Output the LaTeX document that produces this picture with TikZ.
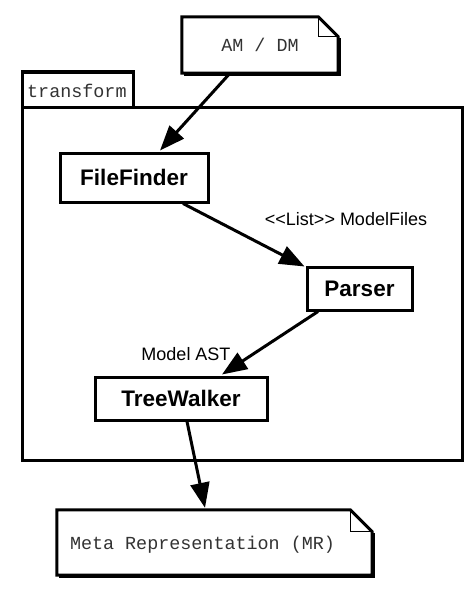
\documentclass[tikz,border=0pt]{standalone}
\usepackage{fontspec}
\setmainfont{Liberation Sans}
\setmonofont{Liberation Mono}
\usetikzlibrary{arrows.meta}
\tikzset{
  comp/.style={draw, line width=3pt, font=\fontsize{22.5}{24}\selectfont\bfseries, inner sep=0pt},
  lbl/.style={font=\fontsize{18}{20}\selectfont, inner sep=0pt},
  mono/.style={font=\ttfamily\fontsize{18.4}{20}\selectfont, inner sep=0pt, text=black!80},
  notebox/.style={mono, minimum height=56pt},
  flow/.style={line width=3pt, -{Triangle[length=25pt,width=19pt]}},
  frame/.style={line width=3pt, line join=miter},
  foldline/.style={line width=1.2pt},
  shade/.style={line width=2pt},
}
\begin{document}
\begin{tikzpicture}[x=1pt,y=-1pt]
\useasboundingbox[fill=white] (0,0) rectangle (474,594);
% package
\draw[frame] (22,107) -- (22,72) -- (133,72) -- (133,107);
\draw[frame] (22,107) rectangle (462,460);
\node[mono, anchor=base west] (pkg) at (27,97) {transform};
% notes
\node[notebox, minimum width=156pt] (amdm) at (260,45) {AM / DM};
\draw[frame] (amdm.north west) -- ([xshift=-20pt]amdm.north east) -- ([yshift=-20pt]amdm.north east) -- (amdm.south east) -- (amdm.south west) -- cycle;
\draw[foldline] ([xshift=-20pt]amdm.north east) -- ([xshift=-20pt,yshift=-20pt]amdm.north east) -- ([yshift=-20pt]amdm.north east);
\draw[shade] ([xshift=1.5pt,yshift=-21pt]amdm.north east) -- ([xshift=1.5pt,yshift=-1.5pt]amdm.south east) -- ([xshift=2pt,yshift=-1.5pt]amdm.south west);

\node[mono, minimum width=315pt, minimum height=65pt, inner xsep=13pt, text depth=-5pt] (mr) at (214.5,542.5) {\makebox[289pt][l]{Meta Representation (MR)}};
\draw[frame] (mr.north west) -- ([xshift=-22pt]mr.north east) -- ([yshift=-22pt]mr.north east) -- (mr.south east) -- (mr.south west) -- cycle;
\draw[foldline] ([xshift=-22pt]mr.north east) -- ([xshift=-22pt,yshift=-22pt]mr.north east) -- ([yshift=-22pt]mr.north east);
\draw[shade] ([xshift=1.5pt,yshift=-23pt]mr.north east) -- ([xshift=1.5pt,yshift=-1.5pt]mr.south east) -- ([xshift=2pt,yshift=-1.5pt]mr.south west);
% components
\node[comp, minimum width=148pt, minimum height=49pt] (ff) at (134,177.5) {FileFinder};
\node[comp, minimum width=105pt, minimum height=43pt] (parser) at (359.5,288.5) {Parser};
\node[comp, minimum width=172pt, minimum height=43pt] (tw) at (181,398.5) {TreeWalker};
% connectors
\draw[flow] ([xshift=-30pt]amdm.south) -- ([xshift=26pt,yshift=1pt]ff.north);
\draw[flow] ([xshift=49pt]ff.south) -- ([xshift=-1pt,yshift=-1pt]parser.north west);
\draw[flow] ([xshift=-41.5pt]parser.south) -- ([xshift=41pt,yshift=1pt]tw.north);
\draw[flow] ([xshift=6pt]tw.south) -- ([xshift=-9.5pt,yshift=2pt]mr.north);
% labels
\node[lbl] (l1) at (346,219) {<\kern0pt<List>\kern0pt> ModelFiles};
\node[lbl] (l2) at (186,354) {Model AST};
\end{tikzpicture}
\end{document}
